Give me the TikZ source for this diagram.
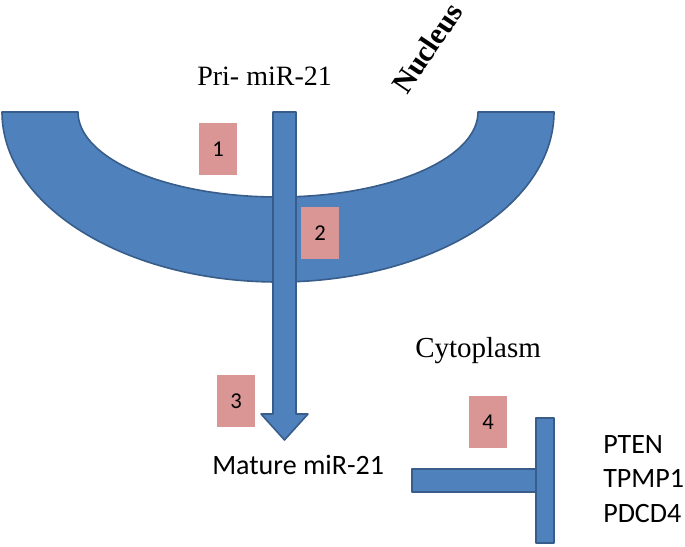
\documentclass[tikz,border=0pt]{standalone}
\usepackage{fontspec}
\setmainfont{Liberation Serif}
\newfontfamily\carlitofont{Carlito}
\definecolor{bfill}{HTML}{4F81BD}
\definecolor{bline}{HTML}{385D8A}
\definecolor{pbox}{HTML}{D99694}
\begin{document}
\begin{tikzpicture}[x=0.75pt,y=0.75pt,
  shapeblue/.style={fill=bfill,draw=bline,line width=1.2pt,line join=round},
  numbox/.style={fill=pbox,minimum width=28.5pt,minimum height=39pt,inner sep=0pt,font=\carlitofont\fontsize{17}{17}\selectfont},
  serlabel/.style={anchor=base west,inner sep=0pt,font=\fontsize{21}{24}\selectfont},
  callabel/.style={anchor=base west,inner sep=0pt,font=\carlitofont\fontsize{21}{24}\selectfont}]
\useasboundingbox (0,0) rectangle (685,-546);
% crescent (nuclear envelope)
\path[shapeblue] (2,-112) -- (78,-112)
  arc[start angle=180,end angle=360,x radius=200,y radius=85]
  -- (554,-112)
  arc[start angle=0,end angle=-180,x radius=276,y radius=170] -- cycle;
% downward arrow
\coordinate (atop) at (284.5,-112);
\coordinate (atip) at (284.5,-440);
\path[shapeblue] (273,-112) -- (296,-112) -- (296,-414) -- (308,-414) -- (atip)
  -- (261,-414) -- (273,-414) -- cycle;
% inhibition T
\path[shapeblue] (412,-469) rectangle (536,-492);
\path[shapeblue] (536,-418) rectangle (554,-543);
% number boxes
\node[numbox] (b1) at (218,-149) {1};
\node[numbox] (b2) at (320,-233) {2};
\node[numbox] (b3) at (236,-401) {3};
\node[numbox] (b4) at (488,-422) {4};
% labels
\node[serlabel] (pri) at (197,-85) {Pri- miR-21};
\node[font=\bfseries\fontsize{22.5}{24}\selectfont,rotate=56,inner sep=0pt] (nuc) at (427,-48) {Nucleus};
\node[serlabel,font=\fontsize{21.75}{24}\selectfont] (cyto) at (415,-357) {Cytoplasm};
\node[callabel] (mature) at (212,-474) {Mature miR-21};
\node[callabel] (pten) at (603,-453) {PTEN};
\node[callabel] (tpmp) at (603,-487) {TPMP1};
\node[callabel] (pdcd) at (603,-522.5) {PDCD4};
\end{tikzpicture}
\end{document}
